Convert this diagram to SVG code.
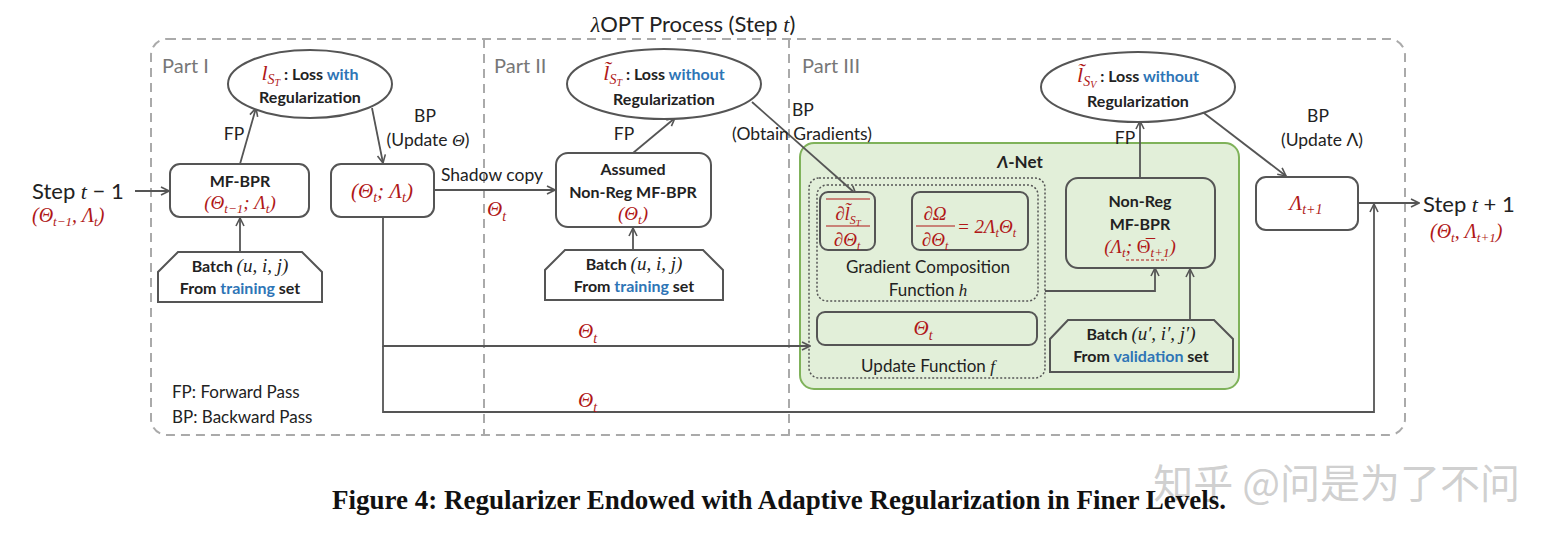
<svg xmlns="http://www.w3.org/2000/svg" width="1559" height="546" viewBox="0 0 1559 546">
<style>
.t{font-family:Lato,"Liberation Sans",sans-serif;fill:#222;}
.b{font-weight:bold;}
.m{font-family:"Liberation Serif",serif;font-style:italic;fill:#b01818;}
.r{fill:#b01818;}
.bl{fill:#2e75b6;}
.g{fill:#777;}
.box{fill:#fff;stroke:#555;stroke-width:2;}
.gbox{fill:#e2efd9;stroke:#555;stroke-width:2;}
.ln{fill:none;stroke:#555;stroke-width:1.8;}
.dash{fill:none;stroke:#aaa;stroke-width:2;stroke-dasharray:9 6;}
.dot{fill:none;stroke:#555;stroke-width:1.5;stroke-dasharray:2 2;}
</style>
<defs>
<marker id="a" viewBox="0 0 10 10" refX="9" refY="5" markerWidth="10" markerHeight="10" markerUnits="userSpaceOnUse" orient="auto"><path d="M1,1 L9,5 L1,9" fill="none" stroke="#555" stroke-width="1.6"/></marker>
</defs>
<rect width="1559" height="546" fill="#fff"/>
<g id="frame">
<rect x="151" y="39" width="1254" height="396" rx="16" class="dash"/>
<line x1="484" y1="39" x2="484" y2="435" class="dash"/>
<line x1="789" y1="39" x2="789" y2="435" class="dash"/>
<text x="693" y="32" text-anchor="middle" class="t" font-size="22"><tspan class="m" style="fill:#222">λ</tspan>OPT Process (Step <tspan class="m" style="fill:#222">t</tspan>)</text>
<text x="162" y="73" class="t g" font-size="20">Part I</text>
<text x="494" y="73" class="t g" font-size="20">Part II</text>
<text x="802" y="73" class="t g" font-size="20">Part III</text>
<text x="172" y="398" class="t" font-size="17">FP: Forward Pass</text>
<text x="172" y="423" class="t" font-size="17">BP: Backward Pass</text>
</g>
<g id="lambda-net">
<rect x="800" y="143" width="439" height="246" rx="14" fill="#e2efd9" stroke="#7fb25a" stroke-width="2"/>
<text x="1020" y="168" text-anchor="middle" class="t b" font-size="17"><tspan font-style="italic">Λ</tspan>-Net</text>
<rect x="809" y="178" width="236" height="200" rx="10" class="dot"/>
<rect x="817" y="185" width="221" height="116" rx="10" class="dot"/>
<text x="928" y="273" text-anchor="middle" class="t" font-size="17">Gradient Composition</text>
<text x="928" y="296" text-anchor="middle" class="t" font-size="17">Function <tspan class="m" style="fill:#222">h</tspan></text>
<text x="928" y="372" text-anchor="middle" class="t" font-size="17">Update Function <tspan class="m" style="fill:#222">f</tspan></text>
</g>
<g id="connectors">
<line x1="135" y1="191" x2="169" y2="191" class="ln" marker-end="url(#a)"/>
<line x1="240" y1="164" x2="256" y2="108" class="ln" marker-end="url(#a)"/>
<line x1="372" y1="108" x2="383" y2="163" class="ln" marker-end="url(#a)"/>
<line x1="240" y1="252" x2="240" y2="218" class="ln" marker-end="url(#a)"/>
<line x1="434" y1="190" x2="555" y2="190" class="ln" marker-end="url(#a)"/>
<line x1="633" y1="250" x2="633" y2="228" class="ln" marker-end="url(#a)"/>
<line x1="633" y1="153" x2="675" y2="118" class="ln" marker-end="url(#a)"/>
<line x1="752" y1="102" x2="856" y2="194" class="ln" marker-end="url(#a)"/>
<polyline points="383,217 383,346 810,346" class="ln" marker-end="url(#a)"/>
<polyline points="383,346 383,412 1374,412 1374,204" class="ln" marker-end="url(#a)"/>
<polyline points="1045,291 1155,291 1155,268" class="ln" marker-end="url(#a)"/>
<line x1="1190" y1="320" x2="1190" y2="269" class="ln" marker-end="url(#a)"/>
<line x1="1140" y1="178" x2="1140" y2="121" class="ln" marker-end="url(#a)"/>
<line x1="1200" y1="110" x2="1286" y2="176" class="ln" marker-end="url(#a)"/>
<line x1="1358" y1="203" x2="1419" y2="203" class="ln" marker-end="url(#a)"/>
<text x="234" y="140" text-anchor="middle" class="t" font-size="17.5">FP</text>
<text x="425" y="122" text-anchor="middle" class="t" font-size="17.5">BP</text>
<text x="428" y="146" text-anchor="middle" class="t" font-size="17.5">(Update <tspan class="m" style="fill:#222">Θ</tspan>)</text>
<text x="492" y="181" text-anchor="middle" class="t" font-size="17.5">Shadow copy</text>
<text x="487" y="216" class="m" font-size="21">Θ<tspan font-size="14" dy="5">t</tspan></text>
<text x="624" y="140" text-anchor="middle" class="t" font-size="17.5">FP</text>
<text x="792" y="116" class="t" font-size="17.5">BP</text>
<text x="802" y="140" text-anchor="middle" class="t" font-size="17.5">(Obtain Gradients)</text>
<text x="578" y="338" class="m" font-size="21">Θ<tspan font-size="14" dy="5">t</tspan></text>
<text x="578" y="407" class="m" font-size="21">Θ<tspan font-size="14" dy="5">t</tspan></text>
<text x="1125" y="144" text-anchor="middle" class="t" font-size="17.5">FP</text>
<text x="1318" y="122" text-anchor="middle" class="t" font-size="17.5">BP</text>
<text x="1322" y="146" text-anchor="middle" class="t" font-size="17.5">(Update Λ)</text>
</g>
<g id="step-prev">
<text x="32" y="199" class="t" font-size="22">Step <tspan class="m" style="fill:#222">t</tspan> − 1</text>
<text x="32" y="222" class="m" font-size="20">(Θ<tspan font-size="13" dy="4">t−1</tspan><tspan dy="-4">, Λ</tspan><tspan font-size="13" dy="4">t</tspan><tspan dy="-4">)</tspan></text>
</g>
<g id="loss1">
<ellipse cx="310" cy="84" rx="82" ry="34" class="box"/>
<text x="310" y="80" text-anchor="middle" class="t b" font-size="16"><tspan class="m" font-weight="normal" font-size="22">l</tspan><tspan class="m" font-weight="normal" font-size="14" dy="4">S</tspan><tspan class="m" font-weight="normal" font-size="10" dy="2">T</tspan><tspan dy="-6"> : Loss </tspan><tspan class="bl">with</tspan></text>
<text x="310" y="103" text-anchor="middle" class="t b" font-size="16">Regularization</text>
</g>
<g id="mfbpr">
<rect x="170" y="164" width="139" height="53" rx="10" class="box"/>
<text x="240" y="187" text-anchor="middle" class="t b" font-size="16">MF-BPR</text>
<text x="240" y="209" text-anchor="middle" class="m" font-size="19">(Θ<tspan font-size="13" dy="4">t−1</tspan><tspan dy="-4">; Λ</tspan><tspan font-size="13" dy="4">t</tspan><tspan dy="-4">)</tspan></text>
</g>
<g id="theta-lambda">
<rect x="331" y="164" width="103" height="53" rx="10" class="box"/>
<text x="382" y="198" text-anchor="middle" class="m" font-size="21">(Θ<tspan font-size="14" dy="4">t</tspan><tspan dy="-4">; Λ</tspan><tspan font-size="14" dy="4">t</tspan><tspan dy="-4">)</tspan></text>
</g>
<g id="batch1">
<polygon points="178,252 302,252 322,272 322,302 158,302 158,272" class="box"/>
<text x="240" y="272" text-anchor="middle" class="t b" font-size="16">Batch <tspan font-family="Liberation Serif" font-style="italic" font-weight="normal" font-size="19">(u, i, j)</tspan></text>
<text x="240" y="294" text-anchor="middle" class="t b" font-size="16">From <tspan class="bl">training</tspan> set</text>
</g>
<g id="loss2">
<ellipse cx="664" cy="84" rx="97" ry="35" class="box"/>
<text x="664" y="80" text-anchor="middle" class="t b" font-size="16"><tspan class="m" font-weight="normal" font-size="22">l̃</tspan><tspan class="m" font-weight="normal" font-size="14" dy="4">S</tspan><tspan class="m" font-weight="normal" font-size="10" dy="2">T</tspan><tspan dy="-6"> : Loss </tspan><tspan class="bl">without</tspan></text>
<text x="664" y="105" text-anchor="middle" class="t b" font-size="16">Regularization</text>
</g>
<g id="assumed">
<rect x="556" y="153" width="155" height="74" rx="12" class="box"/>
<text x="633" y="175" text-anchor="middle" class="t b" font-size="16">Assumed</text>
<text x="633" y="198" text-anchor="middle" class="t b" font-size="16">Non-Reg MF-BPR</text>
<text x="633" y="220" text-anchor="middle" class="m" font-size="19">(Θ<tspan font-size="13" dy="4">t</tspan><tspan dy="-4">)</tspan></text>
</g>
<g id="batch2">
<polygon points="565,250 703,250 723,270 723,300 545,300 545,270" class="box"/>
<text x="634" y="270" text-anchor="middle" class="t b" font-size="16">Batch <tspan font-family="Liberation Serif" font-style="italic" font-weight="normal" font-size="19">(u, i, j)</tspan></text>
<text x="634" y="292" text-anchor="middle" class="t b" font-size="16">From <tspan class="bl">training</tspan> set</text>
</g>
<g id="grad1">
<rect x="820" y="192" width="55" height="58" rx="8" class="gbox"/>
<line x1="826" y1="199" x2="870" y2="199" stroke="#b01818" stroke-width="1.2"/>
<text x="848" y="220" text-anchor="middle" class="m" font-size="19">∂l̃<tspan font-size="12" dy="4">S</tspan><tspan font-size="9" dy="2">T</tspan></text>
<line x1="826" y1="226" x2="870" y2="226" stroke="#b01818" stroke-width="1.2"/>
<text x="847" y="246" text-anchor="middle" class="m" font-size="19">∂Θ<tspan font-size="12" dy="4">t</tspan></text>
</g>
<g id="grad2">
<rect x="912" y="192" width="116" height="58" rx="8" class="gbox"/>
<text x="935" y="220" text-anchor="middle" class="m" font-size="19">∂Ω</text>
<line x1="916" y1="226" x2="955" y2="226" stroke="#b01818" stroke-width="1.2"/>
<text x="935" y="246" text-anchor="middle" class="m" font-size="19">∂Θ<tspan font-size="12" dy="4">t</tspan></text>
<text x="957" y="233" class="m" font-size="19">= 2Λ<tspan font-size="12" dy="4">t</tspan><tspan dy="-4">Θ</tspan><tspan font-size="12" dy="4">t</tspan></text>
</g>
<g id="theta-update">
<rect x="817" y="312" width="220" height="33" rx="8" class="gbox"/>
<text x="923" y="335" text-anchor="middle" class="m" font-size="21">Θ<tspan font-size="14" dy="5">t</tspan></text>
</g>
<g id="loss3">
<ellipse cx="1138" cy="87" rx="97" ry="35" class="box"/>
<text x="1138" y="82" text-anchor="middle" class="t b" font-size="16"><tspan class="m" font-weight="normal" font-size="22">l̃</tspan><tspan class="m" font-weight="normal" font-size="14" dy="4">S</tspan><tspan class="m" font-weight="normal" font-size="10" dy="2">V</tspan><tspan dy="-6"> : Loss </tspan><tspan class="bl">without</tspan></text>
<text x="1138" y="107" text-anchor="middle" class="t b" font-size="16">Regularization</text>
</g>
<g id="nonreg">
<rect x="1066" y="178" width="149" height="90" rx="12" class="gbox"/>
<text x="1140" y="207" text-anchor="middle" class="t b" font-size="16">Non-Reg</text>
<text x="1140" y="230" text-anchor="middle" class="t b" font-size="16">MF-BPR</text>
<text x="1140" y="253" text-anchor="middle" class="m" font-size="19">(Λ<tspan font-size="13" dy="4">t</tspan><tspan dy="-4">; </tspan><tspan font-style="normal">Θ̅</tspan><tspan font-size="13" dy="4">t+1</tspan><tspan dy="-4">)</tspan></text>
<line x1="1126" y1="260" x2="1167" y2="260" stroke="#b01818" stroke-width="1.2" stroke-dasharray="3 2"/>
</g>
<g id="batch3">
<polygon points="1068,320 1214,320 1233,339 1233,372 1050,372 1050,339" class="box" style="fill:#e2efd9"/>
<text x="1141" y="340" text-anchor="middle" class="t b" font-size="16">Batch <tspan font-family="Liberation Serif" font-style="italic" font-weight="normal" font-size="19">(u′, i′, j′)</tspan></text>
<text x="1141" y="362" text-anchor="middle" class="t b" font-size="16">From <tspan class="bl">validation</tspan> set</text>
</g>
<g id="lambda-next">
<rect x="1256" y="177" width="102" height="53" rx="10" class="box"/>
<text x="1306" y="210" text-anchor="middle" class="m" font-size="21">Λ<tspan font-size="14" dy="4">t+1</tspan></text>
</g>
<g id="step-next">
<text x="1423" y="212" class="t" font-size="22">Step <tspan class="m" style="fill:#222">t</tspan> + 1</text>
<text x="1430" y="238" class="m" font-size="20">(Θ<tspan font-size="13" dy="4">t</tspan><tspan dy="-4">, Λ</tspan><tspan font-size="13" dy="4">t+1</tspan><tspan dy="-4">)</tspan></text>
</g>
<text x="1520" y="498" text-anchor="end" font-family="'Noto Sans CJK SC',sans-serif" font-size="40" fill="#bbb" fill-opacity="0.7">知乎 @问是为了不问</text>
<text x="779" y="509" text-anchor="middle" font-family="'Liberation Serif',serif" font-weight="bold" font-size="27" fill="#111">Figure 4: Regularizer Endowed with Adaptive Regularization in Finer Levels.</text>
</svg>
